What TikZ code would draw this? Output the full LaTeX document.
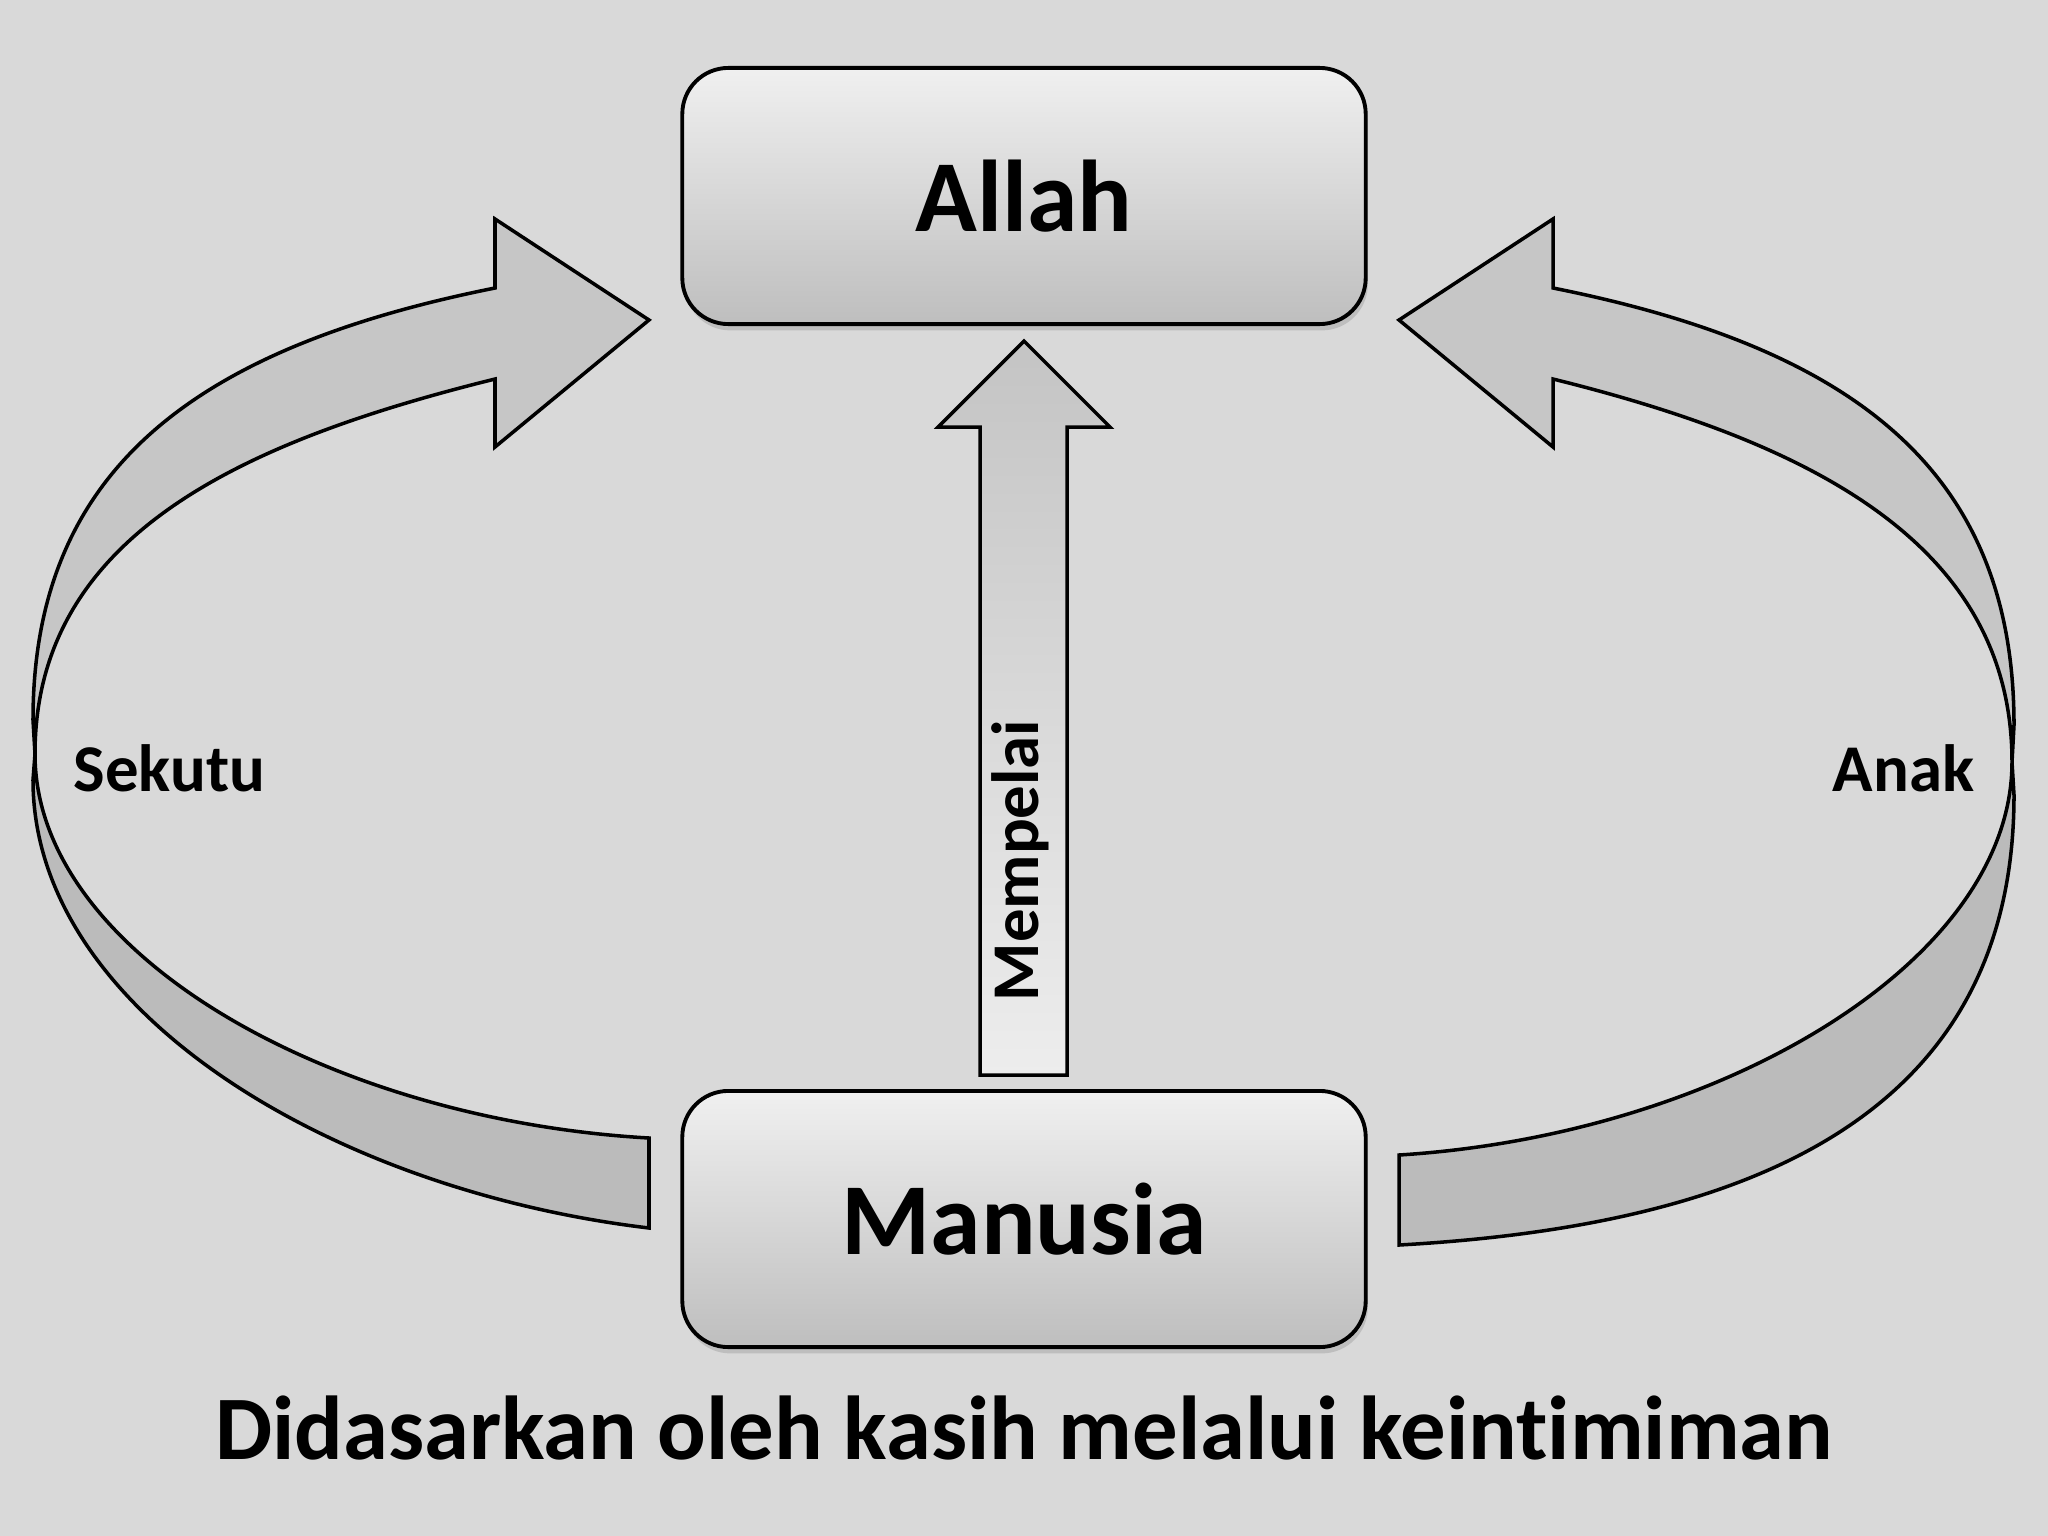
\documentclass[tikz,border=0pt]{standalone}
\usepackage{fontspec}
\setmainfont{Carlito}[Ligatures=NoCommon]
\usetikzlibrary{shadows}

\definecolor{bgcol}{HTML}{D9D9D9}
\definecolor{boxtop}{HTML}{F0F0F0}
\definecolor{boxbot}{HTML}{BEBEBE}
\definecolor{bandup}{HTML}{C6C6C6}
\definecolor{bandlow}{HTML}{BBBBBB}
\definecolor{shafttop}{HTML}{C4C4C4}
\definecolor{shaftbot}{HTML}{EDEDED}

\begin{document}
\begin{tikzpicture}[x=0.01cm,y=-0.01cm]
\fill[bgcol] (0,0) rectangle (2048,1536);
\useasboundingbox (0,0) rectangle (2048,1536);

\coordinate (tipL) at (649,320);
\coordinate (tipR) at (1399,320);
\coordinate (tipM) at (1024,341);

\begin{scope}[every path/.style={draw=black,line width=1pt,line join=miter}]
    % left ribbon
    \path[fill=bandlow] (35,754) -- (33,780) .. controls (33,1010) and (330,1190) .. (649,1228)
        -- (649,1138) .. controls (330,1120) and (35,954) .. (35,754) -- cycle;
    \path[fill=bandup] (tipL) -- (495,219) -- (495,288) .. controls (195,348) and (33,470) .. (33,720)
        -- (35,754) .. controls (35,534) and (245,441) .. (495,379) -- (495,447) -- cycle;
    % right ribbon
    \path[fill=bandlow] (2012,762) -- (2014,795) .. controls (2014,1110) and (1760,1225) .. (1399,1245)
        -- (1399,1155) .. controls (1720,1135) and (2012,962) .. (2012,762) -- cycle;
    \path[fill=bandup] (tipR) -- (1553,219) -- (1553,288) .. controls (1853,348) and (2014,470) .. (2014,725)
        -- (2012,762) .. controls (2012,540) and (1803,441) .. (1553,379) -- (1553,447) -- cycle;
    % middle arrow
    \path[top color=shafttop,bottom color=shaftbot] (980,1075) -- (980,427) -- (938,427) -- (tipM)
        -- (1110,427) -- (1067,427) -- (1067,1075) -- cycle;
\end{scope}

\begin{scope}[every node/.style={draw=black,line width=1.1pt,rounded corners=0.46cm,
              top color=boxtop,bottom color=boxbot,minimum width=6.83cm,minimum height=2.56cm,
              drop shadow={opacity=0.3,shadow xshift=0.6pt,shadow yshift=-1.8pt},
              font=\bfseries\fontsize{29}{35}\selectfont}]
    \node (allah) at (1024,196) {Allah};
    \node (manusia) at (1024,1219) {Manusia};
\end{scope}

\begin{scope}[every node/.style={inner sep=0pt,font=\bfseries\fontsize{19}{23}\selectfont}]
    \node[anchor=base west] (sekutu) at (73,791) {Sekutu};
    \node[anchor=base east] (anak) at (1975,791) {Anak};
    \node[anchor=base west,rotate=90] (mempelai) at (1038,1002) {Mempelai};
    \node[anchor=base,font=\bfseries\fontsize{25.8}{31}\selectfont] (caption) at (1024,1459)
        {Didasarkan oleh kasih melalui keintimiman};
\end{scope}
\end{tikzpicture}
\end{document}
